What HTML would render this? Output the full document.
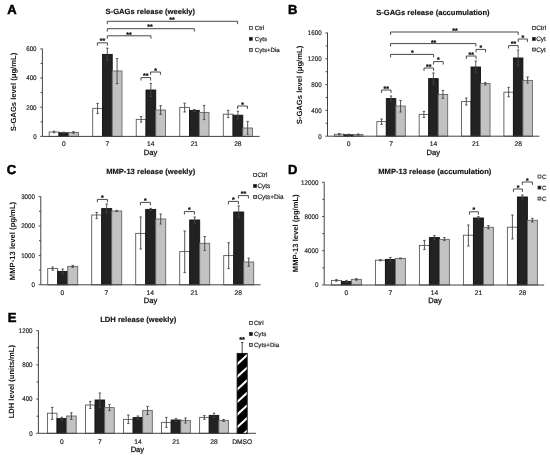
<!DOCTYPE html>
<html><head><meta charset="utf-8"><title>Figure</title>
<style>
html,body{margin:0;padding:0;background:#fff;}
body{width:550px;height:457px;overflow:hidden;position:relative;}
svg{position:absolute;left:0;top:0;display:block;font-family:"Liberation Sans", Arial, sans-serif;text-rendering:geometricPrecision;filter:blur(0.35px);}
</style></head><body>
<svg width="550" height="457" viewBox="0 0 550 457">
<rect width="550" height="457" fill="#fff"/>
<rect x="49.20" y="132.00" width="9.75" height="4.40" fill="#ffffff" stroke="#5a5a5a" stroke-width="0.9"/>
<line x1="54.07" y1="131.20" x2="54.07" y2="132.80" stroke="#444444" stroke-width="0.9"/>
<line x1="52.87" y1="131.20" x2="55.27" y2="131.20" stroke="#444444" stroke-width="0.9"/>
<line x1="52.87" y1="132.80" x2="55.27" y2="132.80" stroke="#444444" stroke-width="0.9"/>
<rect x="58.95" y="132.80" width="9.75" height="3.60" fill="#222222" stroke="#111111" stroke-width="0.9"/>
<line x1="63.82" y1="132.20" x2="63.82" y2="133.40" stroke="#444444" stroke-width="0.9"/>
<line x1="62.62" y1="132.20" x2="65.02" y2="132.20" stroke="#444444" stroke-width="0.9"/>
<line x1="62.62" y1="133.40" x2="65.02" y2="133.40" stroke="#444444" stroke-width="0.9"/>
<rect x="68.70" y="132.40" width="9.75" height="4.00" fill="#c2c2c2" stroke="#666666" stroke-width="0.9"/>
<line x1="73.57" y1="131.60" x2="73.57" y2="133.20" stroke="#444444" stroke-width="0.9"/>
<line x1="72.37" y1="131.60" x2="74.77" y2="131.60" stroke="#444444" stroke-width="0.9"/>
<line x1="72.37" y1="133.20" x2="74.77" y2="133.20" stroke="#444444" stroke-width="0.9"/>
<rect x="92.72" y="108.40" width="9.75" height="28.00" fill="#ffffff" stroke="#5a5a5a" stroke-width="0.9"/>
<line x1="97.59" y1="103.40" x2="97.59" y2="113.40" stroke="#444444" stroke-width="0.9"/>
<line x1="96.39" y1="103.40" x2="98.80" y2="103.40" stroke="#444444" stroke-width="0.9"/>
<line x1="96.39" y1="113.40" x2="98.80" y2="113.40" stroke="#444444" stroke-width="0.9"/>
<rect x="102.47" y="54.40" width="9.75" height="82.00" fill="#222222" stroke="#111111" stroke-width="0.9"/>
<line x1="107.34" y1="48.20" x2="107.34" y2="60.60" stroke="#444444" stroke-width="0.9"/>
<line x1="106.14" y1="48.20" x2="108.55" y2="48.20" stroke="#444444" stroke-width="0.9"/>
<line x1="106.14" y1="60.60" x2="108.55" y2="60.60" stroke="#444444" stroke-width="0.9"/>
<rect x="112.22" y="71.00" width="9.75" height="65.40" fill="#c2c2c2" stroke="#666666" stroke-width="0.9"/>
<line x1="117.09" y1="58.60" x2="117.09" y2="83.60" stroke="#444444" stroke-width="0.9"/>
<line x1="115.89" y1="58.60" x2="118.30" y2="58.60" stroke="#444444" stroke-width="0.9"/>
<line x1="115.89" y1="83.60" x2="118.30" y2="83.60" stroke="#444444" stroke-width="0.9"/>
<rect x="136.24" y="119.40" width="9.75" height="17.00" fill="#ffffff" stroke="#5a5a5a" stroke-width="0.9"/>
<line x1="141.12" y1="116.60" x2="141.12" y2="122.00" stroke="#444444" stroke-width="0.9"/>
<line x1="139.92" y1="116.60" x2="142.31" y2="116.60" stroke="#444444" stroke-width="0.9"/>
<line x1="139.92" y1="122.00" x2="142.31" y2="122.00" stroke="#444444" stroke-width="0.9"/>
<rect x="145.99" y="90.00" width="9.75" height="46.40" fill="#222222" stroke="#111111" stroke-width="0.9"/>
<line x1="150.87" y1="83.40" x2="150.87" y2="96.60" stroke="#444444" stroke-width="0.9"/>
<line x1="149.67" y1="83.40" x2="152.06" y2="83.40" stroke="#444444" stroke-width="0.9"/>
<line x1="149.67" y1="96.60" x2="152.06" y2="96.60" stroke="#444444" stroke-width="0.9"/>
<rect x="155.74" y="110.00" width="9.75" height="26.40" fill="#c2c2c2" stroke="#666666" stroke-width="0.9"/>
<line x1="160.62" y1="105.60" x2="160.62" y2="114.40" stroke="#444444" stroke-width="0.9"/>
<line x1="159.42" y1="105.60" x2="161.81" y2="105.60" stroke="#444444" stroke-width="0.9"/>
<line x1="159.42" y1="114.40" x2="161.81" y2="114.40" stroke="#444444" stroke-width="0.9"/>
<rect x="179.76" y="107.40" width="9.75" height="29.00" fill="#ffffff" stroke="#5a5a5a" stroke-width="0.9"/>
<line x1="184.64" y1="103.20" x2="184.64" y2="112.00" stroke="#444444" stroke-width="0.9"/>
<line x1="183.44" y1="103.20" x2="185.84" y2="103.20" stroke="#444444" stroke-width="0.9"/>
<line x1="183.44" y1="112.00" x2="185.84" y2="112.00" stroke="#444444" stroke-width="0.9"/>
<rect x="189.51" y="110.40" width="9.75" height="26.00" fill="#222222" stroke="#111111" stroke-width="0.9"/>
<line x1="194.39" y1="109.40" x2="194.39" y2="111.40" stroke="#444444" stroke-width="0.9"/>
<line x1="193.19" y1="109.40" x2="195.59" y2="109.40" stroke="#444444" stroke-width="0.9"/>
<line x1="193.19" y1="111.40" x2="195.59" y2="111.40" stroke="#444444" stroke-width="0.9"/>
<rect x="199.26" y="112.40" width="9.75" height="24.00" fill="#c2c2c2" stroke="#666666" stroke-width="0.9"/>
<line x1="204.14" y1="105.40" x2="204.14" y2="119.60" stroke="#444444" stroke-width="0.9"/>
<line x1="202.94" y1="105.40" x2="205.34" y2="105.40" stroke="#444444" stroke-width="0.9"/>
<line x1="202.94" y1="119.60" x2="205.34" y2="119.60" stroke="#444444" stroke-width="0.9"/>
<rect x="223.28" y="114.20" width="9.75" height="22.20" fill="#ffffff" stroke="#5a5a5a" stroke-width="0.9"/>
<line x1="228.16" y1="110.40" x2="228.16" y2="117.60" stroke="#444444" stroke-width="0.9"/>
<line x1="226.96" y1="110.40" x2="229.35" y2="110.40" stroke="#444444" stroke-width="0.9"/>
<line x1="226.96" y1="117.60" x2="229.35" y2="117.60" stroke="#444444" stroke-width="0.9"/>
<rect x="233.03" y="115.20" width="9.75" height="21.20" fill="#222222" stroke="#111111" stroke-width="0.9"/>
<line x1="237.91" y1="111.20" x2="237.91" y2="119.00" stroke="#444444" stroke-width="0.9"/>
<line x1="236.71" y1="111.20" x2="239.10" y2="111.20" stroke="#444444" stroke-width="0.9"/>
<line x1="236.71" y1="119.00" x2="239.10" y2="119.00" stroke="#444444" stroke-width="0.9"/>
<rect x="242.78" y="128.00" width="9.75" height="8.40" fill="#c2c2c2" stroke="#666666" stroke-width="0.9"/>
<line x1="247.66" y1="121.40" x2="247.66" y2="134.40" stroke="#444444" stroke-width="0.9"/>
<line x1="246.46" y1="121.40" x2="248.85" y2="121.40" stroke="#444444" stroke-width="0.9"/>
<line x1="246.46" y1="134.40" x2="248.85" y2="134.40" stroke="#444444" stroke-width="0.9"/>
<line x1="42.40" y1="48.60" x2="42.40" y2="136.40" stroke="#444" stroke-width="1"/>
<line x1="42.40" y1="136.40" x2="259.60" y2="136.40" stroke="#444" stroke-width="1"/>
<line x1="40.20" y1="136.40" x2="42.40" y2="136.40" stroke="#444" stroke-width="0.9"/>
<text x="36.60" y="138.75" font-size="6.7" text-anchor="end" font-weight="normal" fill="#222" textLength="3.47" lengthAdjust="spacingAndGlyphs" stroke="#222" stroke-width="0.18">0</text>
<line x1="40.20" y1="107.23" x2="42.40" y2="107.23" stroke="#444" stroke-width="0.9"/>
<text x="36.60" y="109.58" font-size="6.7" text-anchor="end" font-weight="normal" fill="#222" textLength="10.40" lengthAdjust="spacingAndGlyphs" stroke="#222" stroke-width="0.18">200</text>
<line x1="40.20" y1="78.07" x2="42.40" y2="78.07" stroke="#444" stroke-width="0.9"/>
<text x="36.60" y="80.42" font-size="6.7" text-anchor="end" font-weight="normal" fill="#222" textLength="10.40" lengthAdjust="spacingAndGlyphs" stroke="#222" stroke-width="0.18">400</text>
<line x1="40.20" y1="48.90" x2="42.40" y2="48.90" stroke="#444" stroke-width="0.9"/>
<text x="36.60" y="51.25" font-size="6.7" text-anchor="end" font-weight="normal" fill="#222" textLength="10.40" lengthAdjust="spacingAndGlyphs" stroke="#222" stroke-width="0.18">600</text>
<line x1="40.60" y1="121.82" x2="42.40" y2="121.82" stroke="#444" stroke-width="1.0"/>
<line x1="40.60" y1="92.65" x2="42.40" y2="92.65" stroke="#444" stroke-width="1.0"/>
<line x1="40.60" y1="63.48" x2="42.40" y2="63.48" stroke="#444" stroke-width="1.0"/>
<text x="63.80" y="146.30" font-size="6.7" text-anchor="middle" font-weight="normal" fill="#222"  stroke="#222" stroke-width="0.18">0</text>
<text x="107.32" y="146.30" font-size="6.7" text-anchor="middle" font-weight="normal" fill="#222"  stroke="#222" stroke-width="0.18">7</text>
<text x="150.84" y="146.30" font-size="6.7" text-anchor="middle" font-weight="normal" fill="#222"  stroke="#222" stroke-width="0.18">14</text>
<text x="194.36" y="146.30" font-size="6.7" text-anchor="middle" font-weight="normal" fill="#222"  stroke="#222" stroke-width="0.18">21</text>
<text x="237.88" y="146.30" font-size="6.7" text-anchor="middle" font-weight="normal" fill="#222"  stroke="#222" stroke-width="0.18">28</text>
<text x="150.50" y="154.50" font-size="7.6" text-anchor="middle" font-weight="normal" fill="#111" stroke="#111" stroke-width="0.28">Day</text>
<text x="150.30" y="14.40" font-size="7.6" text-anchor="middle" font-weight="bold" fill="#111" stroke="#111" stroke-width="0.15">S-GAGs release (weekly)</text>
<text x="7.15" y="13.75" font-size="13.0" text-anchor="start" font-weight="bold" fill="#000" stroke="#000" stroke-width="0.5">A</text>
<text x="0" y="0" font-size="7.6" font-weight="bold" text-anchor="middle" fill="#111" textLength="78.40" lengthAdjust="spacingAndGlyphs" transform="translate(16.10,92.00) rotate(-90)">S-GAGs level (μg/mL)</text>
<path d="M107.30,24.20 L107.30,21.30 L237.60,21.30 L237.60,24.20" fill="none" stroke="#484848" stroke-width="1.0"/>
<text x="172.00" y="22.15" font-size="6.9" text-anchor="middle" font-weight="bold" fill="#111" stroke="#111" stroke-width="0.25">**</text>
<path d="M107.30,31.60 L107.30,28.70 L194.30,28.70 L194.30,31.60" fill="none" stroke="#484848" stroke-width="1.0"/>
<text x="150.00" y="29.35" font-size="6.9" text-anchor="middle" font-weight="bold" fill="#111" stroke="#111" stroke-width="0.25">**</text>
<path d="M107.30,38.70 L107.30,35.80 L150.90,35.80 L150.90,38.70" fill="none" stroke="#484848" stroke-width="1.0"/>
<text x="129.00" y="36.55" font-size="6.9" text-anchor="middle" font-weight="bold" fill="#111" stroke="#111" stroke-width="0.25">**</text>
<path d="M97.40,45.70 L97.40,42.80 L107.40,42.80 L107.40,45.70" fill="none" stroke="#484848" stroke-width="1.0"/>
<text x="102.50" y="43.45" font-size="6.9" text-anchor="middle" font-weight="bold" fill="#111" stroke="#111" stroke-width="0.25">**</text>
<path d="M141.00,80.50 L141.00,77.60 L150.60,77.60 L150.60,80.50" fill="none" stroke="#484848" stroke-width="1.0"/>
<text x="145.80" y="78.35" font-size="6.9" text-anchor="middle" font-weight="bold" fill="#111" stroke="#111" stroke-width="0.25">**</text>
<path d="M150.60,74.90 L150.60,72.00 L160.40,72.00 L160.40,74.90" fill="none" stroke="#484848" stroke-width="1.0"/>
<text x="155.50" y="72.75" font-size="6.9" text-anchor="middle" font-weight="bold" fill="#111" stroke="#111" stroke-width="0.25">*</text>
<path d="M237.60,108.90 L237.60,106.00 L247.40,106.00 L247.40,108.90" fill="none" stroke="#484848" stroke-width="1.0"/>
<text x="242.50" y="106.55" font-size="6.9" text-anchor="middle" font-weight="bold" fill="#111" stroke="#111" stroke-width="0.25">*</text>
<rect x="249.40" y="26.40" width="2.9" height="2.9" fill="#ffffff" stroke="#333" stroke-width="0.8"/>
<text x="254.80" y="30.20" font-size="6.1" text-anchor="start" font-weight="normal" fill="#222"  stroke="#222" stroke-width="0.18">Ctrl</text>
<rect x="249.40" y="37.40" width="2.9" height="2.9" fill="#111" stroke="#333" stroke-width="0.8"/>
<text x="254.80" y="41.20" font-size="6.1" text-anchor="start" font-weight="normal" fill="#222"  stroke="#222" stroke-width="0.18">Cyts</text>
<rect x="249.40" y="48.40" width="2.9" height="2.9" fill="#c2c2c2" stroke="#333" stroke-width="0.8"/>
<text x="254.80" y="52.20" font-size="6.1" text-anchor="start" font-weight="normal" fill="#222"  stroke="#222" stroke-width="0.18">Cyts+Dia</text>
<rect x="334.45" y="134.20" width="9.50" height="2.00" fill="#ffffff" stroke="#5a5a5a" stroke-width="0.9"/>
<line x1="339.20" y1="133.60" x2="339.20" y2="134.80" stroke="#444444" stroke-width="0.9"/>
<line x1="338.00" y1="133.60" x2="340.40" y2="133.60" stroke="#444444" stroke-width="0.9"/>
<line x1="338.00" y1="134.80" x2="340.40" y2="134.80" stroke="#444444" stroke-width="0.9"/>
<rect x="343.95" y="134.80" width="9.50" height="1.40" fill="#222222" stroke="#111111" stroke-width="0.9"/>
<line x1="348.70" y1="134.20" x2="348.70" y2="135.40" stroke="#444444" stroke-width="0.9"/>
<line x1="347.50" y1="134.20" x2="349.90" y2="134.20" stroke="#444444" stroke-width="0.9"/>
<line x1="347.50" y1="135.40" x2="349.90" y2="135.40" stroke="#444444" stroke-width="0.9"/>
<rect x="353.45" y="134.60" width="9.50" height="1.60" fill="#c2c2c2" stroke="#666666" stroke-width="0.9"/>
<line x1="358.20" y1="134.00" x2="358.20" y2="135.20" stroke="#444444" stroke-width="0.9"/>
<line x1="357.00" y1="134.00" x2="359.40" y2="134.00" stroke="#444444" stroke-width="0.9"/>
<line x1="357.00" y1="135.20" x2="359.40" y2="135.20" stroke="#444444" stroke-width="0.9"/>
<rect x="376.81" y="121.60" width="9.50" height="14.60" fill="#ffffff" stroke="#5a5a5a" stroke-width="0.9"/>
<line x1="381.56" y1="119.00" x2="381.56" y2="124.40" stroke="#444444" stroke-width="0.9"/>
<line x1="380.36" y1="119.00" x2="382.76" y2="119.00" stroke="#444444" stroke-width="0.9"/>
<line x1="380.36" y1="124.40" x2="382.76" y2="124.40" stroke="#444444" stroke-width="0.9"/>
<rect x="386.31" y="98.60" width="9.50" height="37.60" fill="#222222" stroke="#111111" stroke-width="0.9"/>
<line x1="391.06" y1="96.00" x2="391.06" y2="101.00" stroke="#444444" stroke-width="0.9"/>
<line x1="389.86" y1="96.00" x2="392.26" y2="96.00" stroke="#444444" stroke-width="0.9"/>
<line x1="389.86" y1="101.00" x2="392.26" y2="101.00" stroke="#444444" stroke-width="0.9"/>
<rect x="395.81" y="106.00" width="9.50" height="30.20" fill="#c2c2c2" stroke="#666666" stroke-width="0.9"/>
<line x1="400.56" y1="100.40" x2="400.56" y2="112.00" stroke="#444444" stroke-width="0.9"/>
<line x1="399.36" y1="100.40" x2="401.76" y2="100.40" stroke="#444444" stroke-width="0.9"/>
<line x1="399.36" y1="112.00" x2="401.76" y2="112.00" stroke="#444444" stroke-width="0.9"/>
<rect x="419.17" y="114.40" width="9.50" height="21.80" fill="#ffffff" stroke="#5a5a5a" stroke-width="0.9"/>
<line x1="423.92" y1="111.40" x2="423.92" y2="117.40" stroke="#444444" stroke-width="0.9"/>
<line x1="422.72" y1="111.40" x2="425.12" y2="111.40" stroke="#444444" stroke-width="0.9"/>
<line x1="422.72" y1="117.40" x2="425.12" y2="117.40" stroke="#444444" stroke-width="0.9"/>
<rect x="428.67" y="78.60" width="9.50" height="57.60" fill="#222222" stroke="#111111" stroke-width="0.9"/>
<line x1="433.42" y1="73.00" x2="433.42" y2="84.00" stroke="#444444" stroke-width="0.9"/>
<line x1="432.22" y1="73.00" x2="434.62" y2="73.00" stroke="#444444" stroke-width="0.9"/>
<line x1="432.22" y1="84.00" x2="434.62" y2="84.00" stroke="#444444" stroke-width="0.9"/>
<rect x="438.17" y="94.40" width="9.50" height="41.80" fill="#c2c2c2" stroke="#666666" stroke-width="0.9"/>
<line x1="442.92" y1="90.40" x2="442.92" y2="98.40" stroke="#444444" stroke-width="0.9"/>
<line x1="441.72" y1="90.40" x2="444.12" y2="90.40" stroke="#444444" stroke-width="0.9"/>
<line x1="441.72" y1="98.40" x2="444.12" y2="98.40" stroke="#444444" stroke-width="0.9"/>
<rect x="461.53" y="101.40" width="9.50" height="34.80" fill="#ffffff" stroke="#5a5a5a" stroke-width="0.9"/>
<line x1="466.28" y1="98.00" x2="466.28" y2="105.00" stroke="#444444" stroke-width="0.9"/>
<line x1="465.08" y1="98.00" x2="467.48" y2="98.00" stroke="#444444" stroke-width="0.9"/>
<line x1="465.08" y1="105.00" x2="467.48" y2="105.00" stroke="#444444" stroke-width="0.9"/>
<rect x="471.03" y="67.00" width="9.50" height="69.20" fill="#222222" stroke="#111111" stroke-width="0.9"/>
<line x1="475.78" y1="61.00" x2="475.78" y2="73.00" stroke="#444444" stroke-width="0.9"/>
<line x1="474.58" y1="61.00" x2="476.98" y2="61.00" stroke="#444444" stroke-width="0.9"/>
<line x1="474.58" y1="73.00" x2="476.98" y2="73.00" stroke="#444444" stroke-width="0.9"/>
<rect x="480.53" y="83.60" width="9.50" height="52.60" fill="#c2c2c2" stroke="#666666" stroke-width="0.9"/>
<line x1="485.28" y1="82.60" x2="485.28" y2="85.00" stroke="#444444" stroke-width="0.9"/>
<line x1="484.08" y1="82.60" x2="486.48" y2="82.60" stroke="#444444" stroke-width="0.9"/>
<line x1="484.08" y1="85.00" x2="486.48" y2="85.00" stroke="#444444" stroke-width="0.9"/>
<rect x="503.89" y="92.20" width="9.50" height="44.00" fill="#ffffff" stroke="#5a5a5a" stroke-width="0.9"/>
<line x1="508.64" y1="87.40" x2="508.64" y2="96.80" stroke="#444444" stroke-width="0.9"/>
<line x1="507.44" y1="87.40" x2="509.84" y2="87.40" stroke="#444444" stroke-width="0.9"/>
<line x1="507.44" y1="96.80" x2="509.84" y2="96.80" stroke="#444444" stroke-width="0.9"/>
<rect x="513.39" y="58.00" width="9.50" height="78.20" fill="#222222" stroke="#111111" stroke-width="0.9"/>
<line x1="518.14" y1="50.00" x2="518.14" y2="66.00" stroke="#444444" stroke-width="0.9"/>
<line x1="516.94" y1="50.00" x2="519.34" y2="50.00" stroke="#444444" stroke-width="0.9"/>
<line x1="516.94" y1="66.00" x2="519.34" y2="66.00" stroke="#444444" stroke-width="0.9"/>
<rect x="522.89" y="80.40" width="9.50" height="55.80" fill="#c2c2c2" stroke="#666666" stroke-width="0.9"/>
<line x1="527.64" y1="77.00" x2="527.64" y2="83.00" stroke="#444444" stroke-width="0.9"/>
<line x1="526.44" y1="77.00" x2="528.84" y2="77.00" stroke="#444444" stroke-width="0.9"/>
<line x1="526.44" y1="83.00" x2="528.84" y2="83.00" stroke="#444444" stroke-width="0.9"/>
<line x1="327.50" y1="32.60" x2="327.50" y2="136.20" stroke="#444" stroke-width="1"/>
<line x1="327.50" y1="136.20" x2="539.30" y2="136.20" stroke="#444" stroke-width="1"/>
<line x1="325.30" y1="136.20" x2="327.50" y2="136.20" stroke="#444" stroke-width="0.9"/>
<text x="321.70" y="138.55" font-size="6.7" text-anchor="end" font-weight="normal" fill="#222" textLength="3.47" lengthAdjust="spacingAndGlyphs" stroke="#222" stroke-width="0.18">0</text>
<line x1="325.30" y1="110.40" x2="327.50" y2="110.40" stroke="#444" stroke-width="0.9"/>
<text x="321.70" y="112.75" font-size="6.7" text-anchor="end" font-weight="normal" fill="#222" textLength="10.40" lengthAdjust="spacingAndGlyphs" stroke="#222" stroke-width="0.18">400</text>
<line x1="325.30" y1="84.60" x2="327.50" y2="84.60" stroke="#444" stroke-width="0.9"/>
<text x="321.70" y="86.95" font-size="6.7" text-anchor="end" font-weight="normal" fill="#222" textLength="10.40" lengthAdjust="spacingAndGlyphs" stroke="#222" stroke-width="0.18">800</text>
<line x1="325.30" y1="58.80" x2="327.50" y2="58.80" stroke="#444" stroke-width="0.9"/>
<text x="321.70" y="61.15" font-size="6.7" text-anchor="end" font-weight="normal" fill="#222" textLength="13.86" lengthAdjust="spacingAndGlyphs" stroke="#222" stroke-width="0.18">1200</text>
<line x1="325.30" y1="33.00" x2="327.50" y2="33.00" stroke="#444" stroke-width="0.9"/>
<text x="321.70" y="35.35" font-size="6.7" text-anchor="end" font-weight="normal" fill="#222" textLength="13.86" lengthAdjust="spacingAndGlyphs" stroke="#222" stroke-width="0.18">1600</text>
<line x1="325.70" y1="123.30" x2="327.50" y2="123.30" stroke="#444" stroke-width="1.0"/>
<line x1="325.70" y1="97.50" x2="327.50" y2="97.50" stroke="#444" stroke-width="1.0"/>
<line x1="325.70" y1="71.70" x2="327.50" y2="71.70" stroke="#444" stroke-width="1.0"/>
<line x1="325.70" y1="45.90" x2="327.50" y2="45.90" stroke="#444" stroke-width="1.0"/>
<text x="348.70" y="146.30" font-size="6.7" text-anchor="middle" font-weight="normal" fill="#222"  stroke="#222" stroke-width="0.18">0</text>
<text x="391.06" y="146.30" font-size="6.7" text-anchor="middle" font-weight="normal" fill="#222"  stroke="#222" stroke-width="0.18">7</text>
<text x="433.42" y="146.30" font-size="6.7" text-anchor="middle" font-weight="normal" fill="#222"  stroke="#222" stroke-width="0.18">14</text>
<text x="475.78" y="146.30" font-size="6.7" text-anchor="middle" font-weight="normal" fill="#222"  stroke="#222" stroke-width="0.18">21</text>
<text x="518.14" y="146.30" font-size="6.7" text-anchor="middle" font-weight="normal" fill="#222"  stroke="#222" stroke-width="0.18">28</text>
<text x="433.30" y="154.50" font-size="7.6" text-anchor="middle" font-weight="normal" fill="#111" stroke="#111" stroke-width="0.28">Day</text>
<text x="432.90" y="14.60" font-size="7.6" text-anchor="middle" font-weight="bold" fill="#111" stroke="#111" stroke-width="0.15">S-GAGs release (accumulation)</text>
<text x="288.05" y="13.75" font-size="13.0" text-anchor="start" font-weight="bold" fill="#000" stroke="#000" stroke-width="0.5">B</text>
<text x="0" y="0" font-size="7.6" font-weight="bold" text-anchor="middle" fill="#111" textLength="78.50" lengthAdjust="spacingAndGlyphs" transform="translate(301.70,85.00) rotate(-90)">S-GAGs level (μg/mL)</text>
<path d="M390.60,34.90 L390.60,32.00 L518.20,32.00 L518.20,34.90" fill="none" stroke="#484848" stroke-width="1.0"/>
<text x="455.00" y="33.35" font-size="6.9" text-anchor="middle" font-weight="bold" fill="#111" stroke="#111" stroke-width="0.25">**</text>
<path d="M390.60,46.50 L390.60,43.60 L475.90,43.60 L475.90,46.50" fill="none" stroke="#484848" stroke-width="1.0"/>
<text x="433.60" y="44.95" font-size="6.9" text-anchor="middle" font-weight="bold" fill="#111" stroke="#111" stroke-width="0.25">**</text>
<path d="M390.60,57.30 L390.60,54.40 L433.60,54.40 L433.60,57.30" fill="none" stroke="#484848" stroke-width="1.0"/>
<text x="412.40" y="55.35" font-size="6.9" text-anchor="middle" font-weight="bold" fill="#111" stroke="#111" stroke-width="0.25">*</text>
<path d="M381.60,92.90 L381.60,90.00 L391.00,90.00 L391.00,92.90" fill="none" stroke="#484848" stroke-width="1.0"/>
<text x="386.30" y="90.75" font-size="6.9" text-anchor="middle" font-weight="bold" fill="#111" stroke="#111" stroke-width="0.25">**</text>
<path d="M424.00,70.90 L424.00,68.00 L433.60,68.00 L433.60,70.90" fill="none" stroke="#484848" stroke-width="1.0"/>
<text x="428.80" y="68.75" font-size="6.9" text-anchor="middle" font-weight="bold" fill="#111" stroke="#111" stroke-width="0.25">**</text>
<path d="M433.60,64.50 L433.60,61.60 L443.20,61.60 L443.20,64.50" fill="none" stroke="#484848" stroke-width="1.0"/>
<text x="438.40" y="62.35" font-size="6.9" text-anchor="middle" font-weight="bold" fill="#111" stroke="#111" stroke-width="0.25">*</text>
<path d="M466.40,58.90 L466.40,56.00 L476.00,56.00 L476.00,58.90" fill="none" stroke="#484848" stroke-width="1.0"/>
<text x="471.20" y="57.15" font-size="6.9" text-anchor="middle" font-weight="bold" fill="#111" stroke="#111" stroke-width="0.25">**</text>
<path d="M476.00,52.30 L476.00,49.40 L485.60,49.40 L485.60,52.30" fill="none" stroke="#484848" stroke-width="1.0"/>
<text x="480.80" y="50.35" font-size="6.9" text-anchor="middle" font-weight="bold" fill="#111" stroke="#111" stroke-width="0.25">*</text>
<path d="M508.60,48.50 L508.60,45.60 L518.20,45.60 L518.20,48.50" fill="none" stroke="#484848" stroke-width="1.0"/>
<text x="513.40" y="46.35" font-size="6.9" text-anchor="middle" font-weight="bold" fill="#111" stroke="#111" stroke-width="0.25">**</text>
<path d="M518.20,41.90 L518.20,39.00 L527.40,39.00 L527.40,41.90" fill="none" stroke="#484848" stroke-width="1.0"/>
<text x="522.80" y="39.75" font-size="6.9" text-anchor="middle" font-weight="bold" fill="#111" stroke="#111" stroke-width="0.25">*</text>
<rect x="532.40" y="26.50" width="2.9" height="2.9" fill="#ffffff" stroke="#333" stroke-width="0.8"/>
<text x="536.20" y="30.30" font-size="6.4" text-anchor="start" font-weight="normal" fill="#222"  stroke="#222" stroke-width="0.18">Ctrl</text>
<rect x="532.40" y="37.50" width="2.9" height="2.9" fill="#111" stroke="#333" stroke-width="0.8"/>
<text x="536.20" y="41.30" font-size="6.4" text-anchor="start" font-weight="normal" fill="#222"  stroke="#222" stroke-width="0.18">Cyt</text>
<rect x="532.40" y="48.10" width="2.9" height="2.9" fill="#c2c2c2" stroke="#333" stroke-width="0.8"/>
<text x="536.20" y="51.90" font-size="6.4" text-anchor="start" font-weight="normal" fill="#222"  stroke="#222" stroke-width="0.18">Cyt</text>
<rect x="47.70" y="268.60" width="10.00" height="16.20" fill="#ffffff" stroke="#5a5a5a" stroke-width="0.9"/>
<line x1="52.70" y1="267.00" x2="52.70" y2="270.20" stroke="#444444" stroke-width="0.9"/>
<line x1="51.50" y1="267.00" x2="53.90" y2="267.00" stroke="#444444" stroke-width="0.9"/>
<line x1="51.50" y1="270.20" x2="53.90" y2="270.20" stroke="#444444" stroke-width="0.9"/>
<rect x="57.70" y="271.40" width="10.00" height="13.40" fill="#222222" stroke="#111111" stroke-width="0.9"/>
<line x1="62.70" y1="269.00" x2="62.70" y2="273.80" stroke="#444444" stroke-width="0.9"/>
<line x1="61.50" y1="269.00" x2="63.90" y2="269.00" stroke="#444444" stroke-width="0.9"/>
<line x1="61.50" y1="273.80" x2="63.90" y2="273.80" stroke="#444444" stroke-width="0.9"/>
<rect x="67.70" y="266.40" width="10.00" height="18.40" fill="#c2c2c2" stroke="#666666" stroke-width="0.9"/>
<line x1="72.70" y1="265.40" x2="72.70" y2="267.40" stroke="#444444" stroke-width="0.9"/>
<line x1="71.50" y1="265.40" x2="73.90" y2="265.40" stroke="#444444" stroke-width="0.9"/>
<line x1="71.50" y1="267.40" x2="73.90" y2="267.40" stroke="#444444" stroke-width="0.9"/>
<rect x="91.70" y="215.00" width="10.00" height="69.80" fill="#ffffff" stroke="#5a5a5a" stroke-width="0.9"/>
<line x1="96.70" y1="212.40" x2="96.70" y2="218.60" stroke="#444444" stroke-width="0.9"/>
<line x1="95.50" y1="212.40" x2="97.90" y2="212.40" stroke="#444444" stroke-width="0.9"/>
<line x1="95.50" y1="218.60" x2="97.90" y2="218.60" stroke="#444444" stroke-width="0.9"/>
<rect x="101.70" y="208.60" width="10.00" height="76.20" fill="#222222" stroke="#111111" stroke-width="0.9"/>
<line x1="106.70" y1="204.00" x2="106.70" y2="213.20" stroke="#444444" stroke-width="0.9"/>
<line x1="105.50" y1="204.00" x2="107.90" y2="204.00" stroke="#444444" stroke-width="0.9"/>
<line x1="105.50" y1="213.20" x2="107.90" y2="213.20" stroke="#444444" stroke-width="0.9"/>
<rect x="111.70" y="211.00" width="10.00" height="73.80" fill="#c2c2c2" stroke="#666666" stroke-width="0.9"/>
<line x1="116.70" y1="210.40" x2="116.70" y2="211.60" stroke="#444444" stroke-width="0.9"/>
<line x1="115.50" y1="210.40" x2="117.90" y2="210.40" stroke="#444444" stroke-width="0.9"/>
<line x1="115.50" y1="211.60" x2="117.90" y2="211.60" stroke="#444444" stroke-width="0.9"/>
<rect x="135.70" y="233.40" width="10.00" height="51.40" fill="#ffffff" stroke="#5a5a5a" stroke-width="0.9"/>
<line x1="140.70" y1="217.00" x2="140.70" y2="249.00" stroke="#444444" stroke-width="0.9"/>
<line x1="139.50" y1="217.00" x2="141.90" y2="217.00" stroke="#444444" stroke-width="0.9"/>
<line x1="139.50" y1="249.00" x2="141.90" y2="249.00" stroke="#444444" stroke-width="0.9"/>
<rect x="145.70" y="209.40" width="10.00" height="75.40" fill="#222222" stroke="#111111" stroke-width="0.9"/>
<line x1="150.70" y1="208.40" x2="150.70" y2="210.40" stroke="#444444" stroke-width="0.9"/>
<line x1="149.50" y1="208.40" x2="151.90" y2="208.40" stroke="#444444" stroke-width="0.9"/>
<line x1="149.50" y1="210.40" x2="151.90" y2="210.40" stroke="#444444" stroke-width="0.9"/>
<rect x="155.70" y="219.00" width="10.00" height="65.80" fill="#c2c2c2" stroke="#666666" stroke-width="0.9"/>
<line x1="160.70" y1="214.00" x2="160.70" y2="224.00" stroke="#444444" stroke-width="0.9"/>
<line x1="159.50" y1="214.00" x2="161.90" y2="214.00" stroke="#444444" stroke-width="0.9"/>
<line x1="159.50" y1="224.00" x2="161.90" y2="224.00" stroke="#444444" stroke-width="0.9"/>
<rect x="179.70" y="251.60" width="10.00" height="33.20" fill="#ffffff" stroke="#5a5a5a" stroke-width="0.9"/>
<line x1="184.70" y1="231.00" x2="184.70" y2="272.60" stroke="#444444" stroke-width="0.9"/>
<line x1="183.50" y1="231.00" x2="185.90" y2="231.00" stroke="#444444" stroke-width="0.9"/>
<line x1="183.50" y1="272.60" x2="185.90" y2="272.60" stroke="#444444" stroke-width="0.9"/>
<rect x="189.70" y="220.00" width="10.00" height="64.80" fill="#222222" stroke="#111111" stroke-width="0.9"/>
<line x1="194.70" y1="217.00" x2="194.70" y2="223.00" stroke="#444444" stroke-width="0.9"/>
<line x1="193.50" y1="217.00" x2="195.90" y2="217.00" stroke="#444444" stroke-width="0.9"/>
<line x1="193.50" y1="223.00" x2="195.90" y2="223.00" stroke="#444444" stroke-width="0.9"/>
<rect x="199.70" y="243.30" width="10.00" height="41.50" fill="#c2c2c2" stroke="#666666" stroke-width="0.9"/>
<line x1="204.70" y1="236.50" x2="204.70" y2="250.30" stroke="#444444" stroke-width="0.9"/>
<line x1="203.50" y1="236.50" x2="205.90" y2="236.50" stroke="#444444" stroke-width="0.9"/>
<line x1="203.50" y1="250.30" x2="205.90" y2="250.30" stroke="#444444" stroke-width="0.9"/>
<rect x="223.70" y="255.60" width="10.00" height="29.20" fill="#ffffff" stroke="#5a5a5a" stroke-width="0.9"/>
<line x1="228.70" y1="242.70" x2="228.70" y2="268.60" stroke="#444444" stroke-width="0.9"/>
<line x1="227.50" y1="242.70" x2="229.90" y2="242.70" stroke="#444444" stroke-width="0.9"/>
<line x1="227.50" y1="268.60" x2="229.90" y2="268.60" stroke="#444444" stroke-width="0.9"/>
<rect x="233.70" y="212.00" width="10.00" height="72.80" fill="#222222" stroke="#111111" stroke-width="0.9"/>
<line x1="238.70" y1="206.00" x2="238.70" y2="218.00" stroke="#444444" stroke-width="0.9"/>
<line x1="237.50" y1="206.00" x2="239.90" y2="206.00" stroke="#444444" stroke-width="0.9"/>
<line x1="237.50" y1="218.00" x2="239.90" y2="218.00" stroke="#444444" stroke-width="0.9"/>
<rect x="243.70" y="262.00" width="10.00" height="22.80" fill="#c2c2c2" stroke="#666666" stroke-width="0.9"/>
<line x1="248.70" y1="258.20" x2="248.70" y2="266.20" stroke="#444444" stroke-width="0.9"/>
<line x1="247.50" y1="258.20" x2="249.90" y2="258.20" stroke="#444444" stroke-width="0.9"/>
<line x1="247.50" y1="266.20" x2="249.90" y2="266.20" stroke="#444444" stroke-width="0.9"/>
<line x1="40.80" y1="196.40" x2="40.80" y2="284.80" stroke="#444" stroke-width="1"/>
<line x1="40.80" y1="284.80" x2="260.60" y2="284.80" stroke="#444" stroke-width="1"/>
<line x1="38.60" y1="284.80" x2="40.80" y2="284.80" stroke="#444" stroke-width="0.9"/>
<text x="35.00" y="287.15" font-size="6.7" text-anchor="end" font-weight="normal" fill="#222" textLength="3.47" lengthAdjust="spacingAndGlyphs" stroke="#222" stroke-width="0.18">0</text>
<line x1="38.60" y1="255.40" x2="40.80" y2="255.40" stroke="#444" stroke-width="0.9"/>
<text x="35.00" y="257.75" font-size="6.7" text-anchor="end" font-weight="normal" fill="#222" textLength="13.86" lengthAdjust="spacingAndGlyphs" stroke="#222" stroke-width="0.18">1000</text>
<line x1="38.60" y1="226.00" x2="40.80" y2="226.00" stroke="#444" stroke-width="0.9"/>
<text x="35.00" y="228.35" font-size="6.7" text-anchor="end" font-weight="normal" fill="#222" textLength="13.86" lengthAdjust="spacingAndGlyphs" stroke="#222" stroke-width="0.18">2000</text>
<line x1="38.60" y1="196.60" x2="40.80" y2="196.60" stroke="#444" stroke-width="0.9"/>
<text x="35.00" y="198.95" font-size="6.7" text-anchor="end" font-weight="normal" fill="#222" textLength="13.86" lengthAdjust="spacingAndGlyphs" stroke="#222" stroke-width="0.18">3000</text>
<line x1="39.00" y1="270.10" x2="40.80" y2="270.10" stroke="#444" stroke-width="1.0"/>
<line x1="39.00" y1="240.70" x2="40.80" y2="240.70" stroke="#444" stroke-width="1.0"/>
<line x1="39.00" y1="211.30" x2="40.80" y2="211.30" stroke="#444" stroke-width="1.0"/>
<text x="62.30" y="294.50" font-size="6.7" text-anchor="middle" font-weight="normal" fill="#222"  stroke="#222" stroke-width="0.18">0</text>
<text x="106.30" y="294.50" font-size="6.7" text-anchor="middle" font-weight="normal" fill="#222"  stroke="#222" stroke-width="0.18">7</text>
<text x="150.30" y="294.50" font-size="6.7" text-anchor="middle" font-weight="normal" fill="#222"  stroke="#222" stroke-width="0.18">14</text>
<text x="194.30" y="294.50" font-size="6.7" text-anchor="middle" font-weight="normal" fill="#222"  stroke="#222" stroke-width="0.18">21</text>
<text x="238.30" y="294.50" font-size="6.7" text-anchor="middle" font-weight="normal" fill="#222"  stroke="#222" stroke-width="0.18">28</text>
<text x="150.60" y="302.70" font-size="7.6" text-anchor="middle" font-weight="normal" fill="#111" stroke="#111" stroke-width="0.28">Day</text>
<text x="150.70" y="174.40" font-size="7.6" text-anchor="middle" font-weight="bold" fill="#111" stroke="#111" stroke-width="0.15">MMP-13 release (weekly)</text>
<text x="6.85" y="173.95" font-size="13.0" text-anchor="start" font-weight="bold" fill="#000" stroke="#000" stroke-width="0.5">C</text>
<text x="0" y="0" font-size="7.6" font-weight="bold" text-anchor="middle" fill="#111" textLength="78.30" lengthAdjust="spacingAndGlyphs" transform="translate(15.00,241.00) rotate(-90)">MMP-13 level (pg/mL)</text>
<path d="M97.40,202.30 L97.40,199.40 L107.40,199.40 L107.40,202.30" fill="none" stroke="#484848" stroke-width="1.0"/>
<text x="102.40" y="200.15" font-size="6.9" text-anchor="middle" font-weight="bold" fill="#111" stroke="#111" stroke-width="0.25">*</text>
<path d="M140.40,205.30 L140.40,202.40 L150.40,202.40 L150.40,205.30" fill="none" stroke="#484848" stroke-width="1.0"/>
<text x="145.40" y="203.15" font-size="6.9" text-anchor="middle" font-weight="bold" fill="#111" stroke="#111" stroke-width="0.25">*</text>
<path d="M184.40,214.50 L184.40,211.60 L194.40,211.60 L194.40,214.50" fill="none" stroke="#484848" stroke-width="1.0"/>
<text x="189.40" y="212.35" font-size="6.9" text-anchor="middle" font-weight="bold" fill="#111" stroke="#111" stroke-width="0.25">*</text>
<path d="M228.40,204.30 L228.40,201.40 L238.40,201.40 L238.40,204.30" fill="none" stroke="#484848" stroke-width="1.0"/>
<text x="233.40" y="201.95" font-size="6.9" text-anchor="middle" font-weight="bold" fill="#111" stroke="#111" stroke-width="0.25">*</text>
<path d="M238.40,198.50 L238.40,195.60 L248.40,195.60 L248.40,198.50" fill="none" stroke="#484848" stroke-width="1.0"/>
<text x="243.40" y="195.75" font-size="6.9" text-anchor="middle" font-weight="bold" fill="#111" stroke="#111" stroke-width="0.25">**</text>
<rect x="253.60" y="173.50" width="2.9" height="2.9" fill="#ffffff" stroke="#333" stroke-width="0.8"/>
<text x="257.40" y="177.30" font-size="6.4" text-anchor="start" font-weight="normal" fill="#222"  stroke="#222" stroke-width="0.18">Ctrl</text>
<rect x="253.60" y="184.50" width="2.9" height="2.9" fill="#111" stroke="#333" stroke-width="0.8"/>
<text x="257.40" y="188.30" font-size="6.4" text-anchor="start" font-weight="normal" fill="#222"  stroke="#222" stroke-width="0.18">Cyts</text>
<rect x="253.60" y="195.50" width="2.9" height="2.9" fill="#c2c2c2" stroke="#333" stroke-width="0.8"/>
<text x="257.40" y="199.30" font-size="6.4" text-anchor="start" font-weight="normal" fill="#222"  stroke="#222" stroke-width="0.18">Cyts+Dia</text>
<rect x="331.40" y="280.40" width="10.00" height="4.60" fill="#ffffff" stroke="#5a5a5a" stroke-width="0.9"/>
<line x1="336.40" y1="279.60" x2="336.40" y2="281.20" stroke="#444444" stroke-width="0.9"/>
<line x1="335.20" y1="279.60" x2="337.60" y2="279.60" stroke="#444444" stroke-width="0.9"/>
<line x1="335.20" y1="281.20" x2="337.60" y2="281.20" stroke="#444444" stroke-width="0.9"/>
<rect x="341.40" y="281.40" width="10.00" height="3.60" fill="#222222" stroke="#111111" stroke-width="0.9"/>
<line x1="346.40" y1="280.40" x2="346.40" y2="282.40" stroke="#444444" stroke-width="0.9"/>
<line x1="345.20" y1="280.40" x2="347.60" y2="280.40" stroke="#444444" stroke-width="0.9"/>
<line x1="345.20" y1="282.40" x2="347.60" y2="282.40" stroke="#444444" stroke-width="0.9"/>
<rect x="351.40" y="279.40" width="10.00" height="5.60" fill="#c2c2c2" stroke="#666666" stroke-width="0.9"/>
<line x1="356.40" y1="278.60" x2="356.40" y2="280.20" stroke="#444444" stroke-width="0.9"/>
<line x1="355.20" y1="278.60" x2="357.60" y2="278.60" stroke="#444444" stroke-width="0.9"/>
<line x1="355.20" y1="280.20" x2="357.60" y2="280.20" stroke="#444444" stroke-width="0.9"/>
<rect x="375.40" y="260.20" width="10.00" height="24.80" fill="#ffffff" stroke="#5a5a5a" stroke-width="0.9"/>
<line x1="380.40" y1="259.60" x2="380.40" y2="260.80" stroke="#444444" stroke-width="0.9"/>
<line x1="379.20" y1="259.60" x2="381.60" y2="259.60" stroke="#444444" stroke-width="0.9"/>
<line x1="379.20" y1="260.80" x2="381.60" y2="260.80" stroke="#444444" stroke-width="0.9"/>
<rect x="385.40" y="259.40" width="10.00" height="25.60" fill="#222222" stroke="#111111" stroke-width="0.9"/>
<line x1="390.40" y1="257.40" x2="390.40" y2="261.40" stroke="#444444" stroke-width="0.9"/>
<line x1="389.20" y1="257.40" x2="391.60" y2="257.40" stroke="#444444" stroke-width="0.9"/>
<line x1="389.20" y1="261.40" x2="391.60" y2="261.40" stroke="#444444" stroke-width="0.9"/>
<rect x="395.40" y="258.40" width="10.00" height="26.60" fill="#c2c2c2" stroke="#666666" stroke-width="0.9"/>
<line x1="400.40" y1="258.00" x2="400.40" y2="258.80" stroke="#444444" stroke-width="0.9"/>
<line x1="399.20" y1="258.00" x2="401.60" y2="258.00" stroke="#444444" stroke-width="0.9"/>
<line x1="399.20" y1="258.80" x2="401.60" y2="258.80" stroke="#444444" stroke-width="0.9"/>
<rect x="419.40" y="245.40" width="10.00" height="39.60" fill="#ffffff" stroke="#5a5a5a" stroke-width="0.9"/>
<line x1="424.40" y1="240.40" x2="424.40" y2="249.60" stroke="#444444" stroke-width="0.9"/>
<line x1="423.20" y1="240.40" x2="425.60" y2="240.40" stroke="#444444" stroke-width="0.9"/>
<line x1="423.20" y1="249.60" x2="425.60" y2="249.60" stroke="#444444" stroke-width="0.9"/>
<rect x="429.40" y="237.60" width="10.00" height="47.40" fill="#222222" stroke="#111111" stroke-width="0.9"/>
<line x1="434.40" y1="235.60" x2="434.40" y2="239.60" stroke="#444444" stroke-width="0.9"/>
<line x1="433.20" y1="235.60" x2="435.60" y2="235.60" stroke="#444444" stroke-width="0.9"/>
<line x1="433.20" y1="239.60" x2="435.60" y2="239.60" stroke="#444444" stroke-width="0.9"/>
<rect x="439.40" y="239.40" width="10.00" height="45.60" fill="#c2c2c2" stroke="#666666" stroke-width="0.9"/>
<line x1="444.40" y1="237.60" x2="444.40" y2="240.60" stroke="#444444" stroke-width="0.9"/>
<line x1="443.20" y1="237.60" x2="445.60" y2="237.60" stroke="#444444" stroke-width="0.9"/>
<line x1="443.20" y1="240.60" x2="445.60" y2="240.60" stroke="#444444" stroke-width="0.9"/>
<rect x="463.40" y="235.20" width="10.00" height="49.80" fill="#ffffff" stroke="#5a5a5a" stroke-width="0.9"/>
<line x1="468.40" y1="225.00" x2="468.40" y2="246.00" stroke="#444444" stroke-width="0.9"/>
<line x1="467.20" y1="225.00" x2="469.60" y2="225.00" stroke="#444444" stroke-width="0.9"/>
<line x1="467.20" y1="246.00" x2="469.60" y2="246.00" stroke="#444444" stroke-width="0.9"/>
<rect x="473.40" y="218.00" width="10.00" height="67.00" fill="#222222" stroke="#111111" stroke-width="0.9"/>
<line x1="478.40" y1="216.60" x2="478.40" y2="219.40" stroke="#444444" stroke-width="0.9"/>
<line x1="477.20" y1="216.60" x2="479.60" y2="216.60" stroke="#444444" stroke-width="0.9"/>
<line x1="477.20" y1="219.40" x2="479.60" y2="219.40" stroke="#444444" stroke-width="0.9"/>
<rect x="483.40" y="227.30" width="10.00" height="57.70" fill="#c2c2c2" stroke="#666666" stroke-width="0.9"/>
<line x1="488.40" y1="225.60" x2="488.40" y2="228.80" stroke="#444444" stroke-width="0.9"/>
<line x1="487.20" y1="225.60" x2="489.60" y2="225.60" stroke="#444444" stroke-width="0.9"/>
<line x1="487.20" y1="228.80" x2="489.60" y2="228.80" stroke="#444444" stroke-width="0.9"/>
<rect x="507.40" y="227.20" width="10.00" height="57.80" fill="#ffffff" stroke="#5a5a5a" stroke-width="0.9"/>
<line x1="512.40" y1="215.00" x2="512.40" y2="239.00" stroke="#444444" stroke-width="0.9"/>
<line x1="511.20" y1="215.00" x2="513.60" y2="215.00" stroke="#444444" stroke-width="0.9"/>
<line x1="511.20" y1="239.00" x2="513.60" y2="239.00" stroke="#444444" stroke-width="0.9"/>
<rect x="517.40" y="197.00" width="10.00" height="88.00" fill="#222222" stroke="#111111" stroke-width="0.9"/>
<line x1="522.40" y1="195.00" x2="522.40" y2="199.00" stroke="#444444" stroke-width="0.9"/>
<line x1="521.20" y1="195.00" x2="523.60" y2="195.00" stroke="#444444" stroke-width="0.9"/>
<line x1="521.20" y1="199.00" x2="523.60" y2="199.00" stroke="#444444" stroke-width="0.9"/>
<rect x="527.40" y="220.30" width="10.00" height="64.70" fill="#c2c2c2" stroke="#666666" stroke-width="0.9"/>
<line x1="532.40" y1="218.40" x2="532.40" y2="222.00" stroke="#444444" stroke-width="0.9"/>
<line x1="531.20" y1="218.40" x2="533.60" y2="218.40" stroke="#444444" stroke-width="0.9"/>
<line x1="531.20" y1="222.00" x2="533.60" y2="222.00" stroke="#444444" stroke-width="0.9"/>
<line x1="324.20" y1="182.00" x2="324.20" y2="285.00" stroke="#444" stroke-width="1"/>
<line x1="324.20" y1="285.00" x2="544.20" y2="285.00" stroke="#444" stroke-width="1"/>
<line x1="322.00" y1="285.00" x2="324.20" y2="285.00" stroke="#444" stroke-width="0.9"/>
<text x="318.40" y="287.35" font-size="6.7" text-anchor="end" font-weight="normal" fill="#222" textLength="3.47" lengthAdjust="spacingAndGlyphs" stroke="#222" stroke-width="0.18">0</text>
<line x1="322.00" y1="250.73" x2="324.20" y2="250.73" stroke="#444" stroke-width="0.9"/>
<text x="318.40" y="253.08" font-size="6.7" text-anchor="end" font-weight="normal" fill="#222" textLength="13.86" lengthAdjust="spacingAndGlyphs" stroke="#222" stroke-width="0.18">4000</text>
<line x1="322.00" y1="216.47" x2="324.20" y2="216.47" stroke="#444" stroke-width="0.9"/>
<text x="318.40" y="218.82" font-size="6.7" text-anchor="end" font-weight="normal" fill="#222" textLength="13.86" lengthAdjust="spacingAndGlyphs" stroke="#222" stroke-width="0.18">8000</text>
<line x1="322.00" y1="182.20" x2="324.20" y2="182.20" stroke="#444" stroke-width="0.9"/>
<text x="318.40" y="184.55" font-size="6.7" text-anchor="end" font-weight="normal" fill="#222" textLength="17.33" lengthAdjust="spacingAndGlyphs" stroke="#222" stroke-width="0.18">12000</text>
<line x1="322.40" y1="267.87" x2="324.20" y2="267.87" stroke="#444" stroke-width="1.0"/>
<line x1="322.40" y1="233.60" x2="324.20" y2="233.60" stroke="#444" stroke-width="1.0"/>
<line x1="322.40" y1="199.33" x2="324.20" y2="199.33" stroke="#444" stroke-width="1.0"/>
<text x="346.40" y="294.50" font-size="6.7" text-anchor="middle" font-weight="normal" fill="#222"  stroke="#222" stroke-width="0.18">0</text>
<text x="390.40" y="294.50" font-size="6.7" text-anchor="middle" font-weight="normal" fill="#222"  stroke="#222" stroke-width="0.18">7</text>
<text x="434.40" y="294.50" font-size="6.7" text-anchor="middle" font-weight="normal" fill="#222"  stroke="#222" stroke-width="0.18">14</text>
<text x="478.40" y="294.50" font-size="6.7" text-anchor="middle" font-weight="normal" fill="#222"  stroke="#222" stroke-width="0.18">21</text>
<text x="522.40" y="294.50" font-size="6.7" text-anchor="middle" font-weight="normal" fill="#222"  stroke="#222" stroke-width="0.18">28</text>
<text x="435.00" y="303.00" font-size="7.6" text-anchor="middle" font-weight="normal" fill="#111" stroke="#111" stroke-width="0.28">Day</text>
<text x="434.80" y="174.40" font-size="7.6" text-anchor="middle" font-weight="bold" fill="#111" stroke="#111" stroke-width="0.15">MMP-13 release (accumulation)</text>
<text x="287.95" y="173.55" font-size="13.0" text-anchor="start" font-weight="bold" fill="#000" stroke="#000" stroke-width="0.5">D</text>
<text x="0" y="0" font-size="7.6" font-weight="bold" text-anchor="middle" fill="#111" textLength="77.80" lengthAdjust="spacingAndGlyphs" transform="translate(298.00,233.30) rotate(-90)">MMP-13 level (pg/mL)</text>
<path d="M469.40,214.70 L469.40,211.80 L478.40,211.80 L478.40,214.70" fill="none" stroke="#484848" stroke-width="1.0"/>
<text x="473.80" y="212.35" font-size="6.9" text-anchor="middle" font-weight="bold" fill="#111" stroke="#111" stroke-width="0.25">*</text>
<path d="M513.40,191.90 L513.40,189.00 L522.40,189.00 L522.40,191.90" fill="none" stroke="#484848" stroke-width="1.0"/>
<text x="518.00" y="189.75" font-size="6.9" text-anchor="middle" font-weight="bold" fill="#111" stroke="#111" stroke-width="0.25">*</text>
<path d="M522.40,184.90 L522.40,182.00 L532.40,182.00 L532.40,184.90" fill="none" stroke="#484848" stroke-width="1.0"/>
<text x="527.40" y="183.15" font-size="6.9" text-anchor="middle" font-weight="bold" fill="#111" stroke="#111" stroke-width="0.25">*</text>
<rect x="538.00" y="175.10" width="2.9" height="2.9" fill="#ffffff" stroke="#333" stroke-width="0.8"/>
<text x="542.00" y="178.90" font-size="6.2" text-anchor="start" font-weight="normal" fill="#222"  stroke="#222" stroke-width="0.18">C</text>
<rect x="538.00" y="186.10" width="2.9" height="2.9" fill="#111" stroke="#333" stroke-width="0.8"/>
<text x="542.00" y="189.90" font-size="6.2" text-anchor="start" font-weight="normal" fill="#222"  stroke="#222" stroke-width="0.18">C</text>
<rect x="538.00" y="197.10" width="2.9" height="2.9" fill="#c2c2c2" stroke="#333" stroke-width="0.8"/>
<text x="542.00" y="200.90" font-size="6.2" text-anchor="start" font-weight="normal" fill="#222"  stroke="#222" stroke-width="0.18">C</text>
<rect x="47.40" y="413.20" width="9.60" height="20.10" fill="#ffffff" stroke="#5a5a5a" stroke-width="0.9"/>
<line x1="52.20" y1="407.40" x2="52.20" y2="419.40" stroke="#444444" stroke-width="0.9"/>
<line x1="51.00" y1="407.40" x2="53.40" y2="407.40" stroke="#444444" stroke-width="0.9"/>
<line x1="51.00" y1="419.40" x2="53.40" y2="419.40" stroke="#444444" stroke-width="0.9"/>
<rect x="57.00" y="418.60" width="9.60" height="14.70" fill="#222222" stroke="#111111" stroke-width="0.9"/>
<line x1="61.80" y1="417.20" x2="61.80" y2="420.00" stroke="#444444" stroke-width="0.9"/>
<line x1="60.60" y1="417.20" x2="63.00" y2="417.20" stroke="#444444" stroke-width="0.9"/>
<line x1="60.60" y1="420.00" x2="63.00" y2="420.00" stroke="#444444" stroke-width="0.9"/>
<rect x="66.60" y="416.00" width="9.60" height="17.30" fill="#c2c2c2" stroke="#666666" stroke-width="0.9"/>
<line x1="71.40" y1="412.80" x2="71.40" y2="419.40" stroke="#444444" stroke-width="0.9"/>
<line x1="70.20" y1="412.80" x2="72.60" y2="412.80" stroke="#444444" stroke-width="0.9"/>
<line x1="70.20" y1="419.40" x2="72.60" y2="419.40" stroke="#444444" stroke-width="0.9"/>
<rect x="85.45" y="405.00" width="9.60" height="28.30" fill="#ffffff" stroke="#5a5a5a" stroke-width="0.9"/>
<line x1="90.25" y1="401.40" x2="90.25" y2="408.40" stroke="#444444" stroke-width="0.9"/>
<line x1="89.05" y1="401.40" x2="91.45" y2="401.40" stroke="#444444" stroke-width="0.9"/>
<line x1="89.05" y1="408.40" x2="91.45" y2="408.40" stroke="#444444" stroke-width="0.9"/>
<rect x="95.05" y="400.00" width="9.60" height="33.30" fill="#222222" stroke="#111111" stroke-width="0.9"/>
<line x1="99.85" y1="393.00" x2="99.85" y2="407.40" stroke="#444444" stroke-width="0.9"/>
<line x1="98.65" y1="393.00" x2="101.05" y2="393.00" stroke="#444444" stroke-width="0.9"/>
<line x1="98.65" y1="407.40" x2="101.05" y2="407.40" stroke="#444444" stroke-width="0.9"/>
<rect x="104.65" y="407.60" width="9.60" height="25.70" fill="#c2c2c2" stroke="#666666" stroke-width="0.9"/>
<line x1="109.45" y1="404.40" x2="109.45" y2="410.60" stroke="#444444" stroke-width="0.9"/>
<line x1="108.25" y1="404.40" x2="110.65" y2="404.40" stroke="#444444" stroke-width="0.9"/>
<line x1="108.25" y1="410.60" x2="110.65" y2="410.60" stroke="#444444" stroke-width="0.9"/>
<rect x="123.50" y="419.40" width="9.60" height="13.90" fill="#ffffff" stroke="#5a5a5a" stroke-width="0.9"/>
<line x1="128.30" y1="415.00" x2="128.30" y2="423.60" stroke="#444444" stroke-width="0.9"/>
<line x1="127.10" y1="415.00" x2="129.50" y2="415.00" stroke="#444444" stroke-width="0.9"/>
<line x1="127.10" y1="423.60" x2="129.50" y2="423.60" stroke="#444444" stroke-width="0.9"/>
<rect x="133.10" y="417.60" width="9.60" height="15.70" fill="#222222" stroke="#111111" stroke-width="0.9"/>
<line x1="137.90" y1="416.00" x2="137.90" y2="419.20" stroke="#444444" stroke-width="0.9"/>
<line x1="136.70" y1="416.00" x2="139.10" y2="416.00" stroke="#444444" stroke-width="0.9"/>
<line x1="136.70" y1="419.20" x2="139.10" y2="419.20" stroke="#444444" stroke-width="0.9"/>
<rect x="142.70" y="410.40" width="9.60" height="22.90" fill="#c2c2c2" stroke="#666666" stroke-width="0.9"/>
<line x1="147.50" y1="406.40" x2="147.50" y2="414.60" stroke="#444444" stroke-width="0.9"/>
<line x1="146.30" y1="406.40" x2="148.70" y2="406.40" stroke="#444444" stroke-width="0.9"/>
<line x1="146.30" y1="414.60" x2="148.70" y2="414.60" stroke="#444444" stroke-width="0.9"/>
<rect x="161.55" y="422.40" width="9.60" height="10.90" fill="#ffffff" stroke="#5a5a5a" stroke-width="0.9"/>
<line x1="166.35" y1="417.40" x2="166.35" y2="427.40" stroke="#444444" stroke-width="0.9"/>
<line x1="165.15" y1="417.40" x2="167.55" y2="417.40" stroke="#444444" stroke-width="0.9"/>
<line x1="165.15" y1="427.40" x2="167.55" y2="427.40" stroke="#444444" stroke-width="0.9"/>
<rect x="171.15" y="420.00" width="9.60" height="13.30" fill="#222222" stroke="#111111" stroke-width="0.9"/>
<line x1="175.95" y1="418.60" x2="175.95" y2="421.40" stroke="#444444" stroke-width="0.9"/>
<line x1="174.75" y1="418.60" x2="177.15" y2="418.60" stroke="#444444" stroke-width="0.9"/>
<line x1="174.75" y1="421.40" x2="177.15" y2="421.40" stroke="#444444" stroke-width="0.9"/>
<rect x="180.75" y="420.40" width="9.60" height="12.90" fill="#c2c2c2" stroke="#666666" stroke-width="0.9"/>
<line x1="185.55" y1="418.00" x2="185.55" y2="423.00" stroke="#444444" stroke-width="0.9"/>
<line x1="184.35" y1="418.00" x2="186.75" y2="418.00" stroke="#444444" stroke-width="0.9"/>
<line x1="184.35" y1="423.00" x2="186.75" y2="423.00" stroke="#444444" stroke-width="0.9"/>
<rect x="199.60" y="417.40" width="9.60" height="15.90" fill="#ffffff" stroke="#5a5a5a" stroke-width="0.9"/>
<line x1="204.40" y1="415.60" x2="204.40" y2="419.40" stroke="#444444" stroke-width="0.9"/>
<line x1="203.20" y1="415.60" x2="205.60" y2="415.60" stroke="#444444" stroke-width="0.9"/>
<line x1="203.20" y1="419.40" x2="205.60" y2="419.40" stroke="#444444" stroke-width="0.9"/>
<rect x="209.20" y="415.40" width="9.60" height="17.90" fill="#222222" stroke="#111111" stroke-width="0.9"/>
<line x1="214.00" y1="413.20" x2="214.00" y2="417.60" stroke="#444444" stroke-width="0.9"/>
<line x1="212.80" y1="413.20" x2="215.20" y2="413.20" stroke="#444444" stroke-width="0.9"/>
<line x1="212.80" y1="417.60" x2="215.20" y2="417.60" stroke="#444444" stroke-width="0.9"/>
<rect x="218.80" y="420.40" width="9.60" height="12.90" fill="#c2c2c2" stroke="#666666" stroke-width="0.9"/>
<line x1="223.60" y1="419.40" x2="223.60" y2="421.40" stroke="#444444" stroke-width="0.9"/>
<line x1="222.40" y1="419.40" x2="224.80" y2="419.40" stroke="#444444" stroke-width="0.9"/>
<line x1="222.40" y1="421.40" x2="224.80" y2="421.40" stroke="#444444" stroke-width="0.9"/>
<line x1="38.40" y1="330.40" x2="38.40" y2="433.30" stroke="#444" stroke-width="1"/>
<line x1="38.40" y1="433.30" x2="256.00" y2="433.30" stroke="#444" stroke-width="1"/>
<line x1="36.20" y1="433.30" x2="38.40" y2="433.30" stroke="#444" stroke-width="0.9"/>
<text x="32.60" y="435.65" font-size="6.7" text-anchor="end" font-weight="normal" fill="#222" textLength="3.47" lengthAdjust="spacingAndGlyphs" stroke="#222" stroke-width="0.18">0</text>
<line x1="36.20" y1="399.07" x2="38.40" y2="399.07" stroke="#444" stroke-width="0.9"/>
<text x="32.60" y="401.42" font-size="6.7" text-anchor="end" font-weight="normal" fill="#222" textLength="10.40" lengthAdjust="spacingAndGlyphs" stroke="#222" stroke-width="0.18">400</text>
<line x1="36.20" y1="364.83" x2="38.40" y2="364.83" stroke="#444" stroke-width="0.9"/>
<text x="32.60" y="367.18" font-size="6.7" text-anchor="end" font-weight="normal" fill="#222" textLength="10.40" lengthAdjust="spacingAndGlyphs" stroke="#222" stroke-width="0.18">800</text>
<line x1="36.20" y1="330.60" x2="38.40" y2="330.60" stroke="#444" stroke-width="0.9"/>
<text x="32.60" y="332.95" font-size="6.7" text-anchor="end" font-weight="normal" fill="#222" textLength="13.86" lengthAdjust="spacingAndGlyphs" stroke="#222" stroke-width="0.18">1200</text>
<line x1="36.60" y1="416.18" x2="38.40" y2="416.18" stroke="#444" stroke-width="1.0"/>
<line x1="36.60" y1="381.95" x2="38.40" y2="381.95" stroke="#444" stroke-width="1.0"/>
<line x1="36.60" y1="347.72" x2="38.40" y2="347.72" stroke="#444" stroke-width="1.0"/>
<text x="61.80" y="443.80" font-size="6.7" text-anchor="middle" font-weight="normal" fill="#222"  stroke="#222" stroke-width="0.18">0</text>
<text x="99.85" y="443.80" font-size="6.7" text-anchor="middle" font-weight="normal" fill="#222"  stroke="#222" stroke-width="0.18">7</text>
<text x="137.90" y="443.80" font-size="6.7" text-anchor="middle" font-weight="normal" fill="#222"  stroke="#222" stroke-width="0.18">14</text>
<text x="175.95" y="443.80" font-size="6.7" text-anchor="middle" font-weight="normal" fill="#222"  stroke="#222" stroke-width="0.18">21</text>
<text x="214.00" y="443.80" font-size="6.7" text-anchor="middle" font-weight="normal" fill="#222"  stroke="#222" stroke-width="0.18">28</text>
<text x="242.20" y="443.80" font-size="6.7" text-anchor="middle" font-weight="normal" fill="#222"  stroke="#222" stroke-width="0.18">DMSO</text>
<text x="137.40" y="452.40" font-size="7.6" text-anchor="middle" font-weight="normal" fill="#111" stroke="#111" stroke-width="0.28">Day</text>
<text x="138.20" y="322.00" font-size="7.6" text-anchor="middle" font-weight="bold" fill="#111" stroke="#111" stroke-width="0.15">LDH release (weekly)</text>
<text x="7.75" y="321.65" font-size="13.0" text-anchor="start" font-weight="bold" fill="#000" stroke="#000" stroke-width="0.5">E</text>
<text x="0" y="0" font-size="7.6" font-weight="bold" text-anchor="middle" fill="#111" textLength="73.20" lengthAdjust="spacingAndGlyphs" transform="translate(13.70,381.70) rotate(-90)">LDH level (units/mL)</text>
<rect x="249.40" y="321.50" width="2.9" height="2.9" fill="#ffffff" stroke="#333" stroke-width="0.8"/>
<text x="253.90" y="325.30" font-size="6.2" text-anchor="start" font-weight="normal" fill="#222"  stroke="#222" stroke-width="0.18">Ctrl</text>
<rect x="249.40" y="332.50" width="2.9" height="2.9" fill="#111" stroke="#333" stroke-width="0.8"/>
<text x="253.90" y="336.30" font-size="6.2" text-anchor="start" font-weight="normal" fill="#222"  stroke="#222" stroke-width="0.18">Cyts</text>
<rect x="249.40" y="343.50" width="2.9" height="2.9" fill="#c2c2c2" stroke="#333" stroke-width="0.8"/>
<text x="253.90" y="347.30" font-size="6.2" text-anchor="start" font-weight="normal" fill="#222"  stroke="#222" stroke-width="0.18">Cyts+Dia</text>
<line x1="242.15" y1="342.50" x2="242.15" y2="364.00" stroke="#333" stroke-width="0.9"/>
<line x1="240.95" y1="342.50" x2="243.35" y2="342.50" stroke="#333" stroke-width="0.9"/>
<line x1="240.95" y1="364.00" x2="243.35" y2="364.00" stroke="#333" stroke-width="0.9"/>
<defs><clipPath id="dm"><rect x="237.1" y="353" width="10.1" height="80.3"/></clipPath></defs>
<rect x="237.1" y="353.4" width="10.1" height="79.9" fill="#000"/>
<path d="M236,352.70 L248.5,341.20 M236,365.30 L248.5,353.80 M236,377.90 L248.5,366.40 M236,390.50 L248.5,379.00 M236,403.10 L248.5,391.60 M236,415.70 L248.5,404.20 M236,428.30 L248.5,416.80 M236,440.90 L248.5,429.40 M236,453.50 L248.5,442.00" stroke="#fff" stroke-width="2.1" clip-path="url(#dm)"/>
<rect x="237.1" y="353.4" width="10.1" height="79.9" fill="none" stroke="#111" stroke-width="0.9"/>
<text x="242.00" y="342.20" font-size="7.2" text-anchor="middle" font-weight="bold" fill="#111" stroke="#111" stroke-width="0.3">**</text>
</svg>
</body></html>
